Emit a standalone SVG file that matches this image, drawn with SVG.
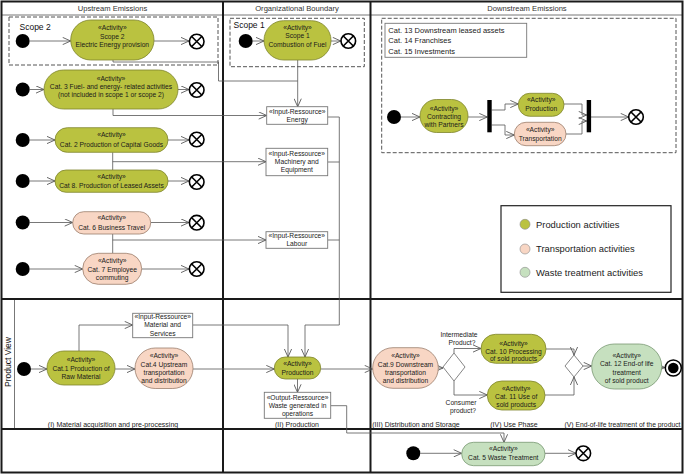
<svg xmlns="http://www.w3.org/2000/svg" xmlns:xlink="http://www.w3.org/1999/xlink" width="685" height="475" viewBox="0 0 685 475">
<style>
.frame{fill:none;stroke:#1a1a1a;stroke-width:2}
.thin{fill:none;stroke:#777;stroke-width:1}
.dash{fill:none;stroke:#555;stroke-width:1;stroke-dasharray:4 2}
.ap{fill:#bac240;stroke:#7d842c;stroke-width:0.8}
.at{fill:#f8d6c4;stroke:#9a7d6c;stroke-width:0.8}
.aw{fill:#c6e0bf;stroke:#789872;stroke-width:0.8}
.box{fill:#fff;stroke:#777;stroke-width:0.9}
.t{font-family:"Liberation Sans",Arial,sans-serif;font-size:6.7px;fill:#1a1a1a;text-anchor:middle}
.h{font-family:"Liberation Sans",Arial,sans-serif;font-size:7.6px;fill:#333;text-anchor:middle}
.ph{font-family:"Liberation Sans",Arial,sans-serif;font-size:7px;fill:#222;text-anchor:middle}
.lg{font-family:"Liberation Sans",Arial,sans-serif;font-size:9.4px;fill:#222}
.sc{font-family:"Liberation Sans",Arial,sans-serif;font-size:8.5px;fill:#111}
.cl{font-family:"Liberation Sans",Arial,sans-serif;font-size:7.5px;fill:#222}
.c{fill:none;stroke:#555;stroke-width:0.8}
.ar{marker-end:url(#a)}
.ini{fill:#000}
.bar{fill:#000}
</style>
<defs>
<marker id="a" viewBox="0 0 10 10" refX="10" refY="5" markerWidth="9" markerHeight="8" markerUnits="userSpaceOnUse" orient="auto">
<path d="M0,0.5 L10,5 L0,9.5" fill="none" stroke="#555" stroke-width="1.1"/>
</marker>
<g id="endn"><circle r="7.3" fill="#fff" stroke="#000" stroke-width="1.6"/><path d="M-5,-5L5,5M5,-5L-5,5" stroke="#000" stroke-width="1.6"/></g>
</defs>
<rect width="685" height="475" fill="#fff"/>

<!-- swimlane frame -->
<g id="lanes">
<line class="thin" x1="1" y1="15" x2="683" y2="15"/>
<line class="thin" x1="14.5" y1="299" x2="14.5" y2="429"/>
<line class="frame" x1="223" y1="1" x2="223" y2="473"/>
<line class="frame" x1="370.5" y1="1" x2="370.5" y2="473"/>
<line class="frame" x1="1" y1="299" x2="683" y2="299"/>
<line class="frame" x1="1" y1="429" x2="683" y2="429"/>
<rect class="frame" x="1.5" y="1.5" width="681" height="471"/>
<text class="h" x="112.5" y="10.5">Upstream Emissions</text>
<text class="h" x="297" y="10.5">Organizational Boundary</text>
<text class="h" x="527" y="10.5">Downstream Emissions</text>
<text class="sc" transform="translate(10.5,362) rotate(-90)" text-anchor="middle">Product View</text>
<text class="ph" x="113" y="426.8">(I) Material acquisition and pre-processing</text>
<text class="ph" x="297" y="426.8">(II) Production</text>
<text class="ph" x="416" y="426.8">(III) Distribution and Storage</text>
<text class="ph" x="514" y="426.8">(IV) Use Phase</text>
<text class="ph" x="680.5" y="426.8" style="text-anchor:end;font-size:6.8px">(V) End-of-life treatment of the product</text>
</g>

<!-- scope boxes -->
<g id="scope2box"><rect class="dash" x="9" y="17" width="209" height="48"/><text class="sc" x="19.5" y="30">Scope 2</text></g>
<g id="scope1box"><rect class="dash" x="230" y="18.3" width="134.3" height="48.4"/><text class="sc" x="233.5" y="27.5">Scope 1</text></g>
<g id="downbox"><rect class="dash" x="381.7" y="18.3" width="294.3" height="134.4"/></g>
<g id="catlist"><rect class="box" x="385" y="23.3" width="141.7" height="34"/>
<text class="cl" x="388.3" y="32.8">Cat. 13 Downstream leased assets</text>
<text class="cl" x="388.3" y="43.1">Cat. 14 Franchises</text>
<text class="cl" x="388.3" y="53.5">Cat. 15 Investments</text></g>

<!-- connectors -->
<g id="connectors">
<path class="c ar" d="M30,41 H70.7"/>
<path class="c ar" d="M154,41 H189"/>
<path class="c ar" d="M30,89.5 H44"/>
<path class="c ar" d="M178,89.5 H189"/>
<path class="c ar" d="M30,140 H55"/>
<path class="c ar" d="M168,140 H189"/>
<path class="c ar" d="M30,181 H55"/>
<path class="c ar" d="M168,181 H189"/>
<path class="c ar" d="M30,222.5 H72.7"/>
<path class="c ar" d="M150.7,222.5 H189"/>
<path class="c ar" d="M30,269 H82.7"/>
<path class="c ar" d="M141.7,269 H189"/>
<path class="c ar" d="M252.7,41 H264"/>
<path class="c ar" d="M331,41 H340.8"/>
<path class="c ar" d="M297.7,60 V106.7"/>
<path class="c" d="M113,60 V62 H218.5 V81 H297.7"/>
<path class="c ar" d="M113,109 V115.5 H266.7"/>
<path class="c" d="M112.7,152.3 V170"/>
<path class="c ar" d="M112.7,161.7 H266"/>
<path class="c" d="M112.7,234 V253.3"/>
<path class="c ar" d="M112.7,240 H266"/>
<path class="c" d="M327.7,117 H339.3 M327.7,162 H339.3 M327.7,240 H339.3"/>
<path class="c ar" d="M339.3,117 V325 H305 V357"/>
<path class="c ar" d="M31,369 H47"/>
<path class="c ar" d="M79,351 V325 H132.7"/>
<path class="c ar" d="M192.7,325 H288 V357"/>
<path class="c ar" d="M115,369 H135"/>
<path class="c ar" d="M193,369 H274.3"/>
<path class="c ar" d="M297.5,379 V392.3"/>
<path class="c ar" d="M320.7,369 H372.7"/>
<path class="c ar" d="M330.7,405.7 H346.7 V433 H504 V442.3"/>
<path class="c ar" d="M438.3,368 H443"/>
<path class="c ar" d="M454,353 V348.5 H481"/>
<path class="c ar" d="M454,381 V395 H487.3"/>
<path class="c ar" d="M546,349 H574 V355"/>
<path class="c ar" d="M545,395 H574 V377"/>
<path class="c ar" d="M583,366 H591.7"/>
<path class="c ar" d="M661.7,367.5 H665"/>
<path class="c ar" d="M420.5,453.3 H461.7"/>
<path class="c ar" d="M545,453.3 H576"/>
<path class="c ar" d="M401,117 H420"/>
<path class="c ar" d="M468,117 H487.3"/>
<path class="c ar" d="M491.7,110 H505 V104 H518.3"/>
<path class="c ar" d="M491.7,125 H505 V135 H514.3"/>
<path class="c ar" d="M564,104 H582 V115 H586.7"/>
<path class="c ar" d="M566,134 H582 V121 H586.7"/>
<path class="c ar" d="M591,117 H628.7"/>
</g>

<!-- initial / final nodes -->
<g id="initials">
<circle class="ini" cx="22.7" cy="41" r="7"/>
<circle class="ini" cx="22.7" cy="89.5" r="7"/>
<circle class="ini" cx="22.7" cy="140" r="7"/>
<circle class="ini" cx="22.7" cy="181" r="7"/>
<circle class="ini" cx="22.7" cy="222.5" r="7"/>
<circle class="ini" cx="22.7" cy="269" r="7"/>
<circle class="ini" cx="245.7" cy="41" r="7"/>
<circle class="ini" cx="24" cy="369" r="7"/>
<circle class="ini" cx="394" cy="117" r="7"/>
<circle class="ini" cx="413.3" cy="453.3" r="7"/>
</g>
<g id="finals">
<use href="#endn" x="196.7" y="41.5"/>
<use href="#endn" x="196.7" y="90"/>
<use href="#endn" x="196.7" y="139.5"/>
<use href="#endn" x="196.7" y="182"/>
<use href="#endn" x="196.7" y="222.7"/>
<use href="#endn" x="196.7" y="269"/>
<use href="#endn" x="348.3" y="41"/>
<use href="#endn" x="636" y="117"/>
<use href="#endn" x="583.3" y="453.3"/>
<g id="flowfinal"><circle cx="673.3" cy="368" r="8" fill="#fff" stroke="#000" stroke-width="1.5"/><circle cx="673.3" cy="368" r="5.3" fill="#000"/></g>
</g>

<!-- activities -->
<g id="scope2"><rect class="ap" x="70.7" y="20" width="83.3" height="40" rx="20"/>
<text class="t" x="112.3" y="30">«Activity»</text><text class="t" x="112.3" y="38.5">Scope 2</text><text class="t" x="112.3" y="46.8">Electric Energy provision</text></g>
<g id="scope1"><rect class="ap" x="264" y="20.7" width="67" height="39.3" rx="19.6"/>
<text class="t" x="297.5" y="30">«Activity»</text><text class="t" x="297.5" y="38.4">Scope 1</text><text class="t" x="297.5" y="46.7">Combustion of Fuel</text></g>
<g id="cat3"><rect class="ap" x="44" y="70" width="134" height="39" rx="19.5"/>
<text class="t" x="111" y="80.7">«Activity»</text><text class="t" x="111" y="88.6">Cat. 3 Fuel- and energy- related activities</text><text class="t" x="111" y="96.8">(not included in scope 1 or scope 2)</text></g>
<g id="cat2"><rect class="ap" x="55" y="127.7" width="113" height="24.6" rx="12.3"/>
<text class="t" x="111.5" y="136.7">«Activity»</text><text class="t" x="111.5" y="146.5">Cat. 2 Production of Capital Goods</text></g>
<g id="cat8"><rect class="ap" x="55" y="170" width="113" height="22.3" rx="11.1"/>
<text class="t" x="111.5" y="179">«Activity»</text><text class="t" x="111.5" y="188">Cat 8. Production of Leased Assets</text></g>
<g id="cat6"><rect class="at" x="72.7" y="211.7" width="78" height="22.3" rx="11.1"/>
<text class="t" x="111.7" y="220">«Activity»</text><text class="t" x="111.7" y="230">Cat. 6 Business Travel</text></g>
<g id="cat7"><rect class="at" x="82.7" y="253.3" width="59" height="31" rx="15.5"/>
<text class="t" x="112.2" y="263.4">«Activity»</text><text class="t" x="112.2" y="271.9">Cat. 7 Employee</text><text class="t" x="112.2" y="280.3">commuting</text></g>
<g id="energy"><rect class="box" x="266.7" y="106.7" width="61" height="17.6"/>
<text class="t" x="297.2" y="114.4">«Input-Ressource»</text><text class="t" x="297.2" y="122">Energy</text></g>
<g id="machinery"><rect class="box" x="266" y="148.3" width="61.7" height="27.4"/>
<text class="t" x="296.8" y="155.7">«Input-Ressource»</text><text class="t" x="296.8" y="164">Machinery and</text><text class="t" x="296.8" y="172.4">Equipment</text></g>
<g id="labour"><rect class="box" x="266" y="231.7" width="61.7" height="16.6"/>
<text class="t" x="296.8" y="238.3">«Input-Ressource»</text><text class="t" x="296.8" y="246.4">Labour</text></g>
<g id="contracting"><rect class="ap" x="420" y="99.5" width="48" height="33" rx="16.5"/>
<text class="t" x="444" y="110.7">«Activity»</text><text class="t" x="444" y="119">Contracting</text><text class="t" x="444" y="127">with Partners</text></g>
<g id="fork"><rect class="bar" x="487.3" y="100" width="4.4" height="32.3"/></g>
<g id="join"><rect class="bar" x="586.7" y="100" width="4.4" height="32.3"/></g>
<g id="dproduction"><rect class="ap" x="518.3" y="93.3" width="45.7" height="23" rx="11.5"/>
<text class="t" x="541.2" y="102.4">«Activity»</text><text class="t" x="541.2" y="110.7">Production</text></g>
<g id="transportation"><rect class="at" x="514.3" y="122.3" width="51.7" height="23.4" rx="11.7"/>
<text class="t" x="540.2" y="132.4">«Activity»</text><text class="t" x="540.2" y="140.7">Transportation</text></g>
<g id="legend"><rect x="501" y="205.7" width="170" height="86.6" fill="#fff" stroke="#222" stroke-width="1.2"/>
<circle cx="525" cy="224.3" r="5" fill="#bac240" stroke="#888" stroke-width="0.6"/><text class="lg" x="536" y="227.6">Production activities</text>
<circle cx="525" cy="249" r="5" fill="#f8d6c4" stroke="#888" stroke-width="0.6"/><text class="lg" x="536" y="252.3">Transportation activities</text>
<circle cx="525" cy="272.3" r="5" fill="#c6e0bf" stroke="#888" stroke-width="0.6"/><text class="lg" x="536" y="275.6">Waste treatment activities</text></g>
<g id="material"><rect class="box" x="132.7" y="313.3" width="60" height="24.4"/>
<text class="t" x="162.7" y="319">«Input-Ressource»</text><text class="t" x="162.7" y="327.4">Material and</text><text class="t" x="162.7" y="335.7">Services</text></g>
<g id="cat1"><rect class="ap" x="47" y="351" width="68" height="34" rx="17"/>
<text class="t" x="81" y="361.7">«Activity»</text><text class="t" x="81" y="370.7">Cat.1 Production of</text><text class="t" x="81" y="379">Raw Material</text></g>
<g id="cat4"><rect class="at" x="135" y="348" width="58" height="40.5" rx="20.2"/>
<text class="t" x="164" y="358">«Activity»</text><text class="t" x="164" y="366.7">Cat.4 Upstream</text><text class="t" x="164" y="374.7">transportation</text><text class="t" x="164" y="383">and distribution</text></g>
<g id="production"><rect class="ap" x="274.3" y="357" width="46.4" height="22" rx="11"/>
<text class="t" x="297.5" y="366.4">«Activity»</text><text class="t" x="297.5" y="374.5">Production</text></g>
<g id="output"><rect class="box" x="264.3" y="392.3" width="66.4" height="26"/>
<text class="t" x="297.5" y="400">«Output-Ressource»</text><text class="t" x="297.5" y="408">Waste generated in</text><text class="t" x="297.5" y="416">operations</text></g>
<g id="cat9"><rect class="at" x="372.7" y="347.7" width="65.6" height="40.6" rx="20.3"/>
<text class="t" x="405.5" y="357.5">«Activity»</text><text class="t" x="405.5" y="366.7">Cat.9 Downstream</text><text class="t" x="405.5" y="374.7">transportation</text><text class="t" x="405.5" y="383">and distribution</text></g>
<g id="decision"><path d="M443,367 L454,353 L465,367 L454,381 Z" fill="#fff" stroke="#666" stroke-width="0.8"/>
<text class="t" x="459" y="336.6">Intermediate</text><text class="t" x="462" y="344.6">Product?</text>
<text class="t" x="461" y="405">Consumer</text><text class="t" x="463" y="413">product?</text></g>
<g id="cat10"><rect class="ap" x="481" y="334.3" width="65" height="29" rx="14.5"/>
<text class="t" x="513.5" y="345.7">«Activity»</text><text class="t" x="513.5" y="354">Cat. 10 Processing</text><text class="t" x="513.5" y="361.4">of sold products</text></g>
<g id="cat11"><rect class="ap" x="487.3" y="381" width="57.7" height="29" rx="14.5"/>
<text class="t" x="516.2" y="390.7">«Activity»</text><text class="t" x="516.2" y="398.7">Cat. 11 Use of</text><text class="t" x="516.2" y="406.7">sold products</text></g>
<g id="merge"><path d="M565,366 L574,355 L583,366 L574,377 Z" fill="#fff" stroke="#666" stroke-width="0.8"/></g>
<g id="cat12"><rect class="aw" x="591.7" y="344" width="70" height="45" rx="22.5"/>
<text class="t" x="626.7" y="358">«Activity»</text><text class="t" x="626.7" y="366.4">Cat. 12 End-of life</text><text class="t" x="626.7" y="374.7">treatment</text><text class="t" x="626.7" y="383">of sold product</text></g>
<g id="cat5"><rect class="aw" x="461.7" y="442.3" width="83.3" height="23.4" rx="11.7"/>
<text class="t" x="503.3" y="451.4">«Activity»</text><text class="t" x="503.3" y="459.7">Cat. 5 Waste Treatment</text></g>
</svg>
